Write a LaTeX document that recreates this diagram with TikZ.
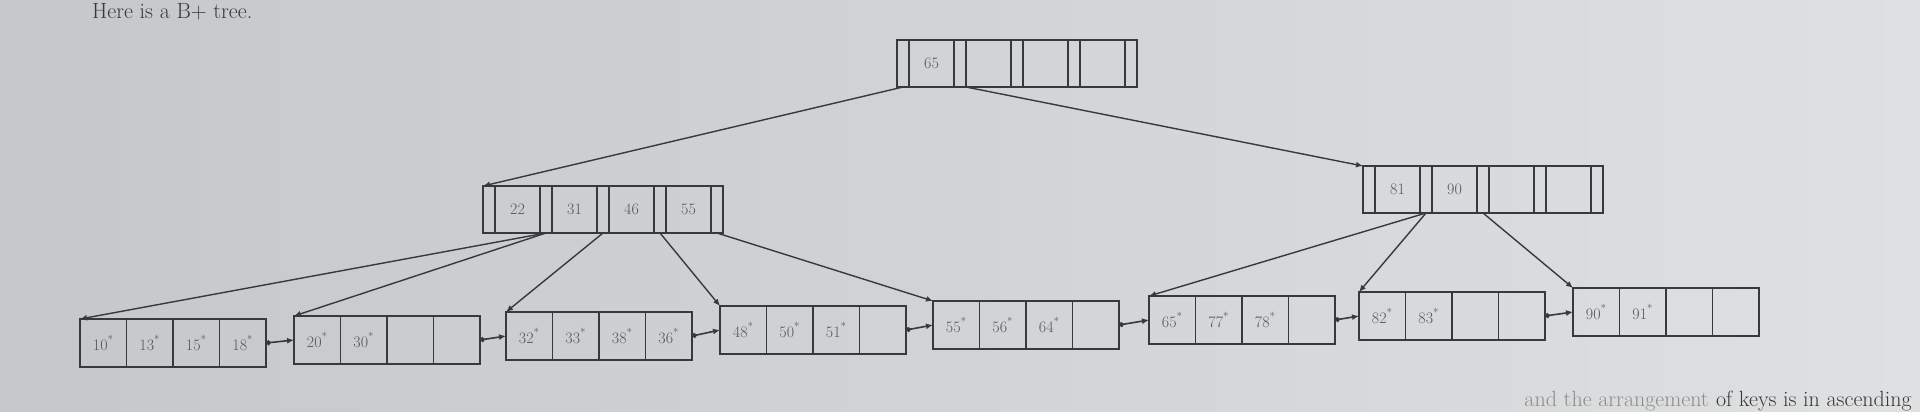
\documentclass[tikz,border=0pt]{standalone}
\usetikzlibrary{arrows.meta}
\definecolor{ink}{RGB}{55,57,59}
\definecolor{txt}{RGB}{85,88,91}
\definecolor{bgl}{RGB}{196,200,202}
\definecolor{bgr}{RGB}{222,224,225}
\tikzset{
  cell/.style={draw=ink, line width=1.5pt, inner sep=0pt, outer sep=0pt, anchor=north west,
    font=\fontsize{16}{19}\selectfont, text=txt},
  keycell/.style={cell, minimum width=45pt, minimum height=47pt},
  ptrcell/.style={cell, minimum width=12pt, minimum height=47pt},
  leafcell/.style={cell, minimum width=46.5pt, minimum height=48pt},
  edge/.style={draw=ink, line width=1.4pt, -{Latex[length=7pt,width=6pt]}},
  sib/.style={draw=ink, line width=1.6pt, {Circle[length=5pt]}-{Latex[length=7pt,width=6pt]}},
  caption/.style={inner sep=0pt, font=\fontsize{22}{26}\selectfont, text=black!78},
}
\newcommand{\innode}[7]{%
  \node[ptrcell] (#1-p0) at (#2,#3) {};
  \node[keycell] (#1-k1) at (#2+12,#3) {#4};
  \node[ptrcell] (#1-p1) at (#2+57,#3) {};
  \node[keycell] (#1-k2) at (#2+69,#3) {#5};
  \node[ptrcell] (#1-p2) at (#2+114,#3) {};
  \node[keycell] (#1-k3) at (#2+126,#3) {#6};
  \node[ptrcell] (#1-p3) at (#2+171,#3) {};
  \node[keycell] (#1-k4) at (#2+183,#3) {#7};
  \node[ptrcell] (#1-p4) at (#2+228,#3) {};
}
\newcommand{\leafnode}[7]{%
  \node[leafcell] (#1-1) at (#2,#3) {#4};
  \node[leafcell] (#1-2) at (#2+46.5,#3) {#5};
  \node[leafcell] (#1-3) at (#2+93,#3) {#6};
  \node[leafcell] (#1-4) at (#2+139.5,#3) {#7};
}
\newcommand{\de}[1]{#1\textsuperscript{*}}
\begin{document}
\begin{tikzpicture}[x=1pt,y=-1pt]
  \shade[left color=bgl, right color=bgr] (0,0) rectangle (1920,412);
  \useasboundingbox (0,0) rectangle (1920,412);

  % page text above and below the figure
  \node[caption, anchor=base west] (top) at (92,19) {Here is a B+ tree.};
  \node[caption, anchor=base east] (bot1) at (1912,406) {of keys is in ascending};
  \node[caption, anchor=base east, text=black!45] (bot2) at ([xshift=-7pt]bot1.base west) {and the arrangement};

  % root and internal nodes
  \innode{R}{897}{40}{65}{}{}{}
  \innode{A}{483}{186}{22}{31}{46}{55}
  \innode{B}{1363}{166}{81}{90}{}{}

  % leaves
  \leafnode{L1}{80}{319}{\de{10}}{\de{13}}{\de{15}}{\de{18}}
  \leafnode{L2}{294}{316}{\de{20}}{\de{30}}{}{}
  \leafnode{L3}{506}{312}{\de{32}}{\de{33}}{\de{38}}{\de{36}}
  \leafnode{L4}{720}{306}{\de{48}}{\de{50}}{\de{51}}{}
  \leafnode{L5}{933}{301}{\de{55}}{\de{56}}{\de{64}}{}
  \leafnode{L6}{1149}{296}{\de{65}}{\de{77}}{\de{78}}{}
  \leafnode{L7}{1359}{292}{\de{82}}{\de{83}}{}{}
  \leafnode{L8}{1573}{288}{\de{90}}{\de{91}}{}{}

  % tree pointers
  \draw[edge] (R-p0.south) -- (A-p0.north west);
  \draw[edge] (R-p1.south east) -- (B-p0.north west);
  \draw[edge] (A-p1.south) -- (L1-1.north west);
  \draw[edge] (A-p1.south) -- (L2-1.north west);
  \draw[edge] (A-p2.south) -- (L3-1.north west);
  \draw[edge] (A-p3.south) -- (L4-1.north west);
  \draw[edge] (A-p4.south) -- (L5-1.north west);
  \draw[edge] (B-p1.south) -- (L6-1.north west);
  \draw[edge] (B-p1.south) -- (L7-1.north west);
  \draw[edge] (B-p2.south) -- (L8-1.north west);

  % sibling pointers
  \draw[sib] (L1-4.east) -- (L2-1.west);
  \draw[sib] (L2-4.east) -- (L3-1.west);
  \draw[sib] (L3-4.east) -- (L4-1.west);
  \draw[sib] (L4-4.east) -- (L5-1.west);
  \draw[sib] (L5-4.east) -- (L6-1.west);
  \draw[sib] (L6-4.east) -- (L7-1.west);
  \draw[sib] (L7-4.east) -- (L8-1.west);
\end{tikzpicture}
\end{document}
